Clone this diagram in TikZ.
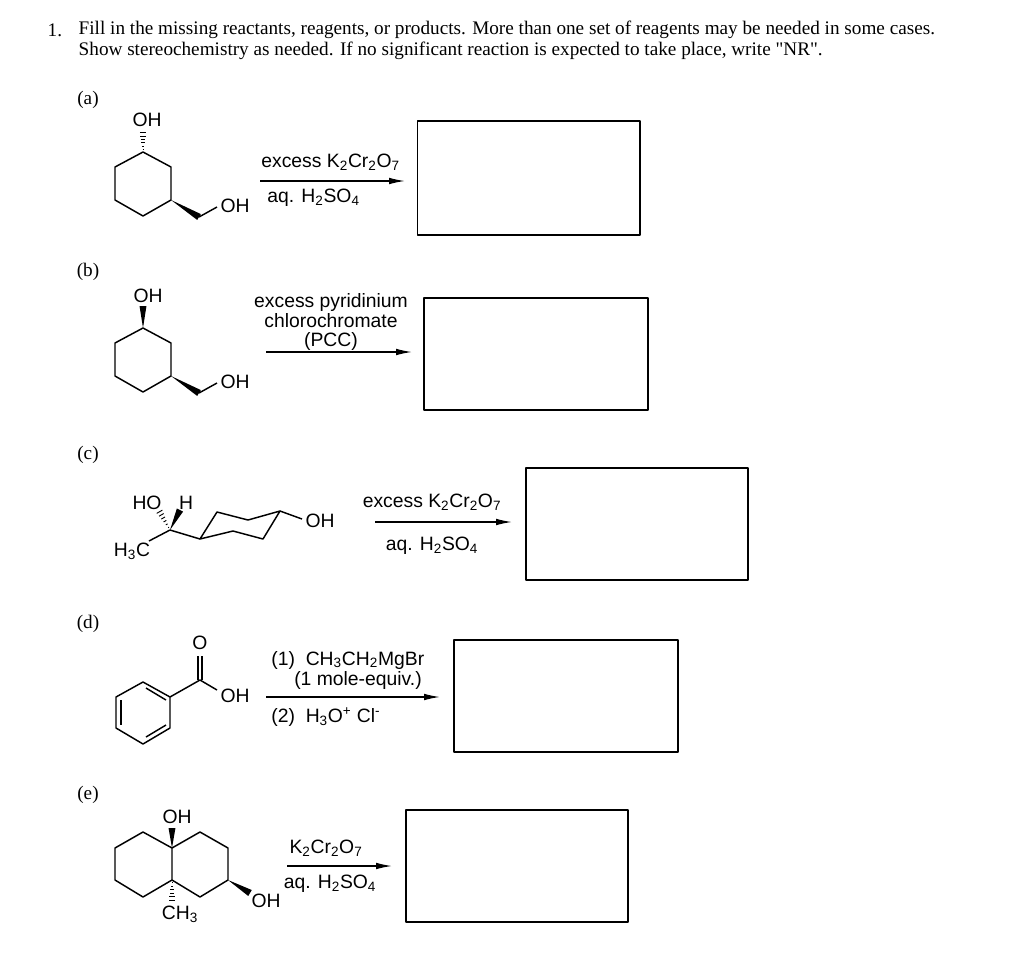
\documentclass[tikz,border=0pt]{standalone}
\usepackage{fontspec}
\setmainfont{Liberation Serif}
\setsansfont{Liberation Sans}
\usetikzlibrary{calc,arrows.meta}
\newcommand\sub[1]{\textsubscript{#1}}
\newcommand\sups[1]{\textsuperscript{#1}}
\newcommand\wdg[2]{\fill #1 -- ($#2!2.6pt!90:#1$) -- ($#2!2.6pt!-90:#1$) -- cycle;}
\newcommand\hsh[2]{\foreach \t in {0.12,0.27,0.42,0.57,0.72,0.87}{\draw[line width=0.7pt] ($#1!\t!#2!{\t*2.8pt}!90:#2$) -- ($#1!\t!#2!{\t*2.8pt}!-90:#2$);}}
\begin{document}
\begin{tikzpicture}[x=0.75pt,y=-0.75pt,line width=1.1pt,line join=round,
  chem/.style={font=\sffamily\fontsize{14.5}{15}\selectfont,inner sep=0.5pt},
  lbl/.style={font=\fontsize{14.4}{15}\selectfont,inner sep=0pt},
  ansbox/.style={draw,line width=1pt},
  rxn/.style={-{Latex[length=12pt,width=5pt]},line width=1pt}]
\useasboundingbox (0,0) rectangle (1014,972);
% header
\node[lbl,anchor=west] (n1) at (47,30) {1.};
\node[lbl,anchor=west] (h1) at (78,30) {Fill in the missing reactants, reagents, or products. More than one set of reagents may be needed in some cases.};
\node[lbl,anchor=west] (h2) at (78,51) {Show stereochemistry as needed. If no significant reaction is expected to take place, write \textquotedbl NR\textquotedbl.};
\node[lbl] (la) at (88,100) {(a)};
\node[lbl] (lb) at (88,272) {(b)};
\node[lbl] (lc) at (88,455) {(c)};
\node[lbl] (ld) at (88,624) {(d)};
\node[lbl] (le) at (88,795) {(e)};
% (a)
\draw (143,152)--(171,167)--(171,200)--(143,216)--(115,200)--(115,167)--cycle;
\hsh{(143,152)}{(143,130)}
\node[chem] (aoh1) at (147,120) {OH};
\wdg{(171,200)}{(199,217)}
\draw (199,217)--(217,207);
\node[chem] (aoh2) at (235,206) {OH};
\draw[rxn] (260,181) -- (405,181);
\node[chem,anchor=west] (ar1) at (260,162) {excess K\sub{2}Cr\sub{2}O\sub{7}};
\node[chem,anchor=west] (ar2) at (266,198) {aq. H\sub{2}SO\sub{4}};
\node[ansbox,minimum width=167pt,minimum height=85.5pt] (abox) at (528.5,178) {};
% (b)
\draw (143,328)--(171,343)--(171,376)--(143,392)--(115,376)--(115,343)--cycle;
\wdg{(143,328)}{(143,306)}
\node[chem] (boh1) at (148,296) {OH};
\wdg{(171,376)}{(199,393)}
\draw (199,393)--(217,383);
\node[chem] (boh2) at (235,382) {OH};
\draw[rxn] (266,352) -- (412,352);
\node[chem] (br1) at (331,302) {excess pyridinium};
\node[chem] (br2) at (331,321) {chlorochromate};
\node[chem] (br3) at (331,341) {(PCC)};
\node[ansbox,minimum width=168pt,minimum height=84pt] (bbox) at (536,354) {};
% (c)
\draw (200,539)--(217,512)--(248,520)--(280,511)--(263,539)--(233,531)--cycle;
\draw (200,539)--(170,530);
\draw (170,530)--(149,541);
\node[chem] (ch3) at (132,551) {H\sub{3}C};
\hsh{(170,530)}{(158,509)}
\wdg{(170,530)}{(180,510)}
\node[chem] (cho) at (147,503) {HO};
\node[chem] (chh) at (186,503) {H};
\draw (280,511)--(302,519);
\node[chem] (coh) at (320,521) {OH};
\draw[rxn] (375,522) -- (512,522);
\node[chem] (cr1) at (432,502) {excess K\sub{2}Cr\sub{2}O\sub{7}};
\node[chem] (cr2) at (432,546) {aq. H\sub{2}SO\sub{4}};
\node[ansbox,minimum width=166.5pt,minimum height=84pt] (cbox) at (637,524) {};
% (d)
\draw (143,682)--(170,697)--(170,728)--(143,744)--(116,728)--(116,697)--cycle;
\draw (121,700)--(121,725);
\draw (146,688)--(166,700);
\draw (166,725)--(146,737);
\draw (170,697)--(200,680)--(217,690);
\draw (198,680)--(198,656); \draw (202,680)--(202,656);
\node[chem] (do) at (200,643) {O};
\node[chem] (doh) at (235,696) {OH};
\draw[rxn] (266,697) -- (440,697);
\node[chem,anchor=west] (dr1) at (270,660) {(1)\ \ CH\sub{3}CH\sub{2}MgBr};
\node[chem] (dr2) at (358,680) {(1 mole-equiv.)};
\node[chem,anchor=west] (dr3) at (270,717) {(2)\ \ H\sub{3}O\sups{+} Cl\sups{-}};
\node[ansbox,minimum width=168pt,minimum height=84pt] (dbox) at (566,696) {};
% (e)
\draw (172,848)--(143,832)--(115,848)--(115,880)--(143,897)--(172,880)--cycle;
\draw (172,848)--(200,832)--(228,848)--(228,880)--(200,897)--(172,880);
\wdg{(172,848)}{(172,828)}
\node[chem] (eoh1) at (177,817) {OH};
\hsh{(172,880)}{(172,903)}
\node[chem] (ech) at (180,914) {CH\sub{3}};
\wdg{(228,880)}{(250,893)}
\node[chem] (eoh2) at (266,901) {OH};
\draw[rxn] (287,866) -- (392,866);
\node[chem] (er1) at (326,848) {K\sub{2}Cr\sub{2}O\sub{7}};
\node[chem] (er2) at (330,884) {aq. H\sub{2}SO\sub{4}};
\node[ansbox,minimum width=166.5pt,minimum height=84pt] (ebox) at (517,866) {};
\end{tikzpicture}
\end{document}
